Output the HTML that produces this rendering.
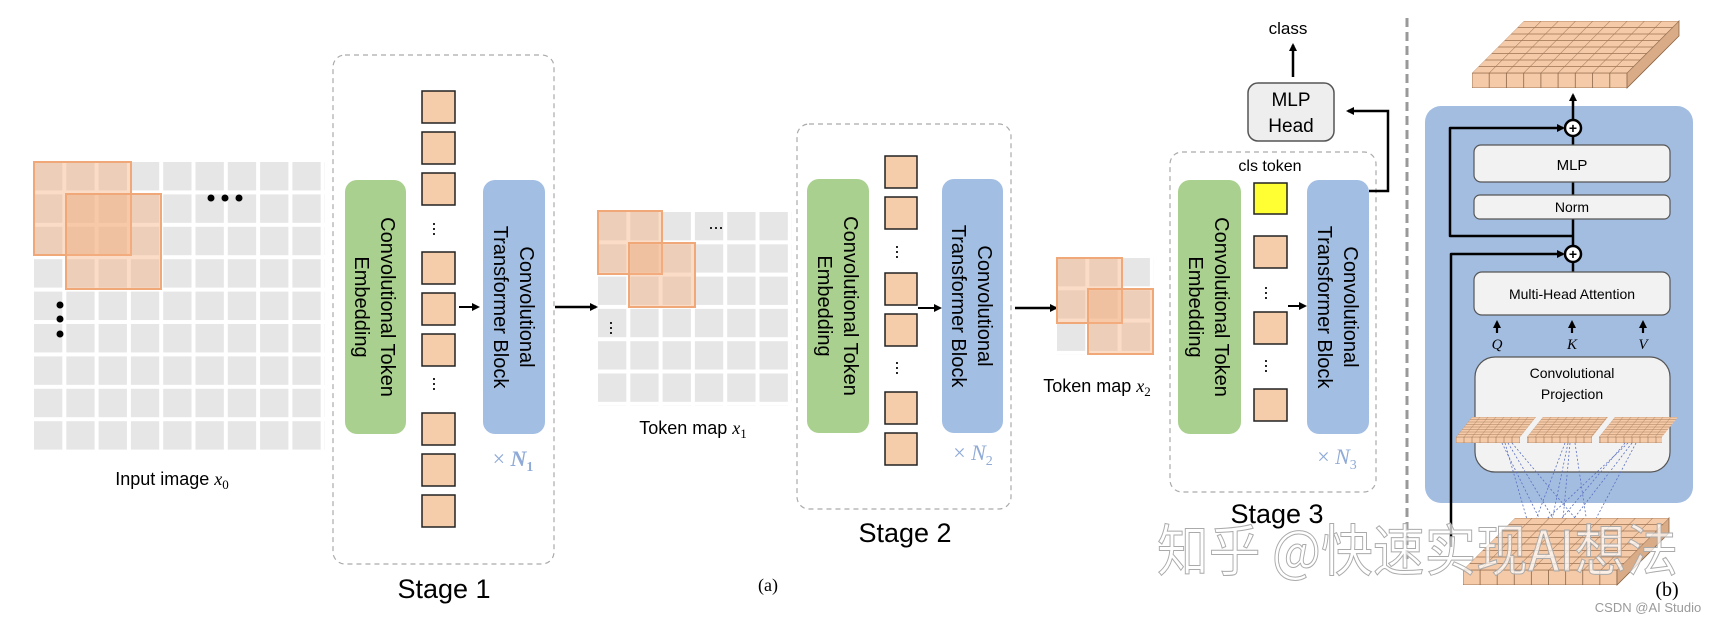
<!DOCTYPE html>
<html><head><meta charset="utf-8"><style>
html,body{margin:0;padding:0;background:#fff;}
svg{display:block;font-family:"Liberation Sans","Noto Sans CJK SC",sans-serif;}
</style></head><body>
<svg width="1720" height="618" viewBox="0 0 1720 618" xmlns="http://www.w3.org/2000/svg">
<defs>
<pattern id="g1" x="34" y="162" width="32.3" height="32.4" patternUnits="userSpaceOnUse"><rect x="0" y="0" width="28.3" height="28.4" fill="#e6e6e6"/></pattern>
<pattern id="g2" x="598" y="212" width="32.3" height="32.3" patternUnits="userSpaceOnUse"><rect x="0" y="0" width="28.3" height="28.3" fill="#e6e6e6"/></pattern>
<pattern id="g3" x="1057" y="258" width="32.3" height="32.3" patternUnits="userSpaceOnUse"><rect x="0" y="0" width="28.3" height="28.3" fill="#e6e6e6"/></pattern>
<pattern id="tf" width="17.22" height="6.5" patternUnits="userSpaceOnUse"><rect width="17.22" height="6.5" fill="#f5caa8" stroke="#9e7656" stroke-width="0.7"/></pattern>
<pattern id="ff1" x="1472" y="73" width="17.22" height="15" patternUnits="userSpaceOnUse"><rect width="17.22" height="15" fill="#f5caa8" stroke="#8a6648" stroke-width="0.8"/></pattern>
<pattern id="ff2" x="1463" y="570" width="17.1" height="15" patternUnits="userSpaceOnUse"><rect width="17.1" height="15" fill="#f5caa8" stroke="#8a6648" stroke-width="0.8"/></pattern>
<pattern id="sf" width="8" height="2.5" patternUnits="userSpaceOnUse"><rect width="8" height="2.5" fill="#f5caa8" stroke="#9e7656" stroke-width="0.4"/></pattern>
<pattern id="sff" x="0" y="437" width="8" height="6" patternUnits="userSpaceOnUse"><rect width="8" height="6" fill="#f5caa8" stroke="#8a6648" stroke-width="0.5"/></pattern>
<marker id="ah" markerWidth="8" markerHeight="8" refX="6" refY="4" orient="auto" markerUnits="userSpaceOnUse"><path d="M0,0 L8,4 L0,8 z" fill="#000"/></marker>
</defs>

<!-- Input image -->
<rect x="34" y="162" width="291" height="291" fill="url(#g1)"/>
<rect x="34" y="162" width="97" height="93" fill="rgba(244,177,131,0.45)" stroke="#f0a878" stroke-width="2"/>
<rect x="66" y="194" width="95" height="95" fill="rgba(244,177,131,0.45)" stroke="#f0a878" stroke-width="2"/>
<circle cx="211" cy="198" r="3.5"/><circle cx="225" cy="198" r="3.5"/><circle cx="239" cy="198" r="3.5"/>
<circle cx="60" cy="305" r="3.5"/><circle cx="60" cy="319" r="3.5"/><circle cx="60" cy="334" r="3.5"/>
<text x="172" y="485" font-size="18" text-anchor="middle">Input image <tspan font-family="Liberation Serif" font-style="italic">x</tspan><tspan font-family="Liberation Serif" font-size="13" dy="4">0</tspan></text>

<!-- Stage 1 -->
<rect x="333" y="55" width="221" height="509" rx="12" fill="none" stroke="#aaa" stroke-width="1.2" stroke-dasharray="5,4"/>
<rect x="345" y="180" width="61" height="254" rx="12" fill="#a9d08e"/>
<text transform="translate(375,307) rotate(90)" font-size="20" text-anchor="middle"><tspan x="0" y="-6">Convolutional Token</tspan><tspan x="0" y="20">Embedding</tspan></text>
<rect x="483" y="180" width="62" height="254" rx="12" fill="#a2bee3"/>
<text transform="translate(514,307) rotate(90)" font-size="20" text-anchor="middle"><tspan x="0" y="-6">Convolutional</tspan><tspan x="0" y="20">Transformer Block</tspan></text>
<g fill="#f6cdaa" stroke="#222" stroke-width="1.5">
<rect x="422" y="91" width="33" height="32"/><rect x="422" y="132" width="33" height="32"/><rect x="422" y="173" width="33" height="32"/>
<rect x="422" y="252" width="33" height="32"/><rect x="422" y="293" width="33" height="32"/><rect x="422" y="334" width="33" height="32"/>
<rect x="422" y="413" width="33" height="32"/><rect x="422" y="454" width="33" height="32"/><rect x="422" y="495" width="33" height="32"/>
</g>
<text x="438" y="234" font-size="18" text-anchor="middle" transform="rotate(90,438,229)">...</text>
<text x="438" y="389" font-size="18" text-anchor="middle" transform="rotate(90,438,384)">...</text>
<line x1="459" y1="307" x2="478" y2="307" stroke="#000" stroke-width="2" marker-end="url(#ah)"/>
<text x="513" y="466" font-size="22" fill="#8faad6" text-anchor="middle" font-family="Liberation Serif">× <tspan font-weight="bold" font-style="italic">N</tspan><tspan font-size="14" font-weight="bold" dy="5">1</tspan></text>
<text x="444" y="598" font-size="27" text-anchor="middle">Stage 1</text>
<line x1="555" y1="307" x2="596" y2="307" stroke="#000" stroke-width="2.5" marker-end="url(#ah)"/>

<!-- Token map x1 -->
<rect x="598" y="212" width="194" height="194" fill="url(#g2)"/>
<rect x="598" y="211" width="64" height="63" fill="rgba(244,177,131,0.45)" stroke="#f0a878" stroke-width="2"/>
<rect x="629" y="243" width="66" height="64" fill="rgba(244,177,131,0.45)" stroke="#f0a878" stroke-width="2"/>
<text x="716" y="229" font-size="18" text-anchor="middle">...</text>
<text x="615" y="333" font-size="18" text-anchor="middle" transform="rotate(90,615,328)">...</text>
<text x="693" y="434" font-size="18" text-anchor="middle">Token map <tspan font-family="Liberation Serif" font-style="italic">x</tspan><tspan font-family="Liberation Serif" font-size="13" dy="4">1</tspan></text>

<!-- Stage 2 -->
<rect x="797" y="124" width="214" height="385" rx="12" fill="none" stroke="#aaa" stroke-width="1.2" stroke-dasharray="5,4"/>
<rect x="807" y="179" width="62" height="254" rx="12" fill="#a9d08e"/>
<text transform="translate(838,306) rotate(90)" font-size="20" text-anchor="middle"><tspan x="0" y="-6">Convolutional Token</tspan><tspan x="0" y="20">Embedding</tspan></text>
<rect x="942" y="179" width="61" height="254" rx="12" fill="#a2bee3"/>
<text transform="translate(972,306) rotate(90)" font-size="20" text-anchor="middle"><tspan x="0" y="-6">Convolutional</tspan><tspan x="0" y="20">Transformer Block</tspan></text>
<g fill="#f6cdaa" stroke="#222" stroke-width="1.5">
<rect x="885" y="156" width="32" height="32"/><rect x="885" y="197" width="32" height="32"/>
<rect x="885" y="273" width="32" height="32"/><rect x="885" y="314" width="32" height="32"/>
<rect x="885" y="392" width="32" height="32"/><rect x="885" y="433" width="32" height="32"/>
</g>
<text x="901" y="257" font-size="18" text-anchor="middle" transform="rotate(90,901,252)">...</text>
<text x="901" y="373" font-size="18" text-anchor="middle" transform="rotate(90,901,368)">...</text>
<line x1="918" y1="308" x2="940" y2="308" stroke="#000" stroke-width="2" marker-end="url(#ah)"/>
<text x="973" y="460" font-size="22" fill="#8faad6" text-anchor="middle" font-family="Liberation Serif">× <tspan font-style="italic">N</tspan><tspan font-size="14" dy="5">2</tspan></text>
<text x="905" y="542" font-size="27" text-anchor="middle">Stage 2</text>
<line x1="1015" y1="308" x2="1056" y2="308" stroke="#000" stroke-width="2.5" marker-end="url(#ah)"/>

<!-- Token map x2 -->
<rect x="1057" y="258" width="97" height="97" fill="url(#g3)"/>
<rect x="1057" y="258" width="65" height="65" fill="rgba(244,177,131,0.45)" stroke="#f0a878" stroke-width="2"/>
<rect x="1088" y="289" width="65" height="65" fill="rgba(244,177,131,0.45)" stroke="#f0a878" stroke-width="2"/>
<text x="1097" y="392" font-size="18" text-anchor="middle">Token map <tspan font-family="Liberation Serif" font-style="italic">x</tspan><tspan font-family="Liberation Serif" font-size="13" dy="4">2</tspan></text>

<!-- Stage 3 -->
<rect x="1170" y="152" width="206" height="340" rx="12" fill="none" stroke="#aaa" stroke-width="1.2" stroke-dasharray="5,4"/>
<text x="1270" y="171" font-size="16" text-anchor="middle">cls token</text>
<rect x="1178" y="180" width="63" height="254" rx="12" fill="#a9d08e"/>
<text transform="translate(1209,307) rotate(90)" font-size="20" text-anchor="middle"><tspan x="0" y="-6">Convolutional Token</tspan><tspan x="0" y="20">Embedding</tspan></text>
<rect x="1307" y="180" width="62" height="254" rx="12" fill="#a2bee3"/>
<text transform="translate(1338,307) rotate(90)" font-size="20" text-anchor="middle"><tspan x="0" y="-6">Convolutional</tspan><tspan x="0" y="20">Transformer Block</tspan></text>
<rect x="1254" y="183" width="33" height="31" fill="#ffff33" stroke="#222" stroke-width="1.5"/>
<g fill="#f6cdaa" stroke="#222" stroke-width="1.5">
<rect x="1254" y="236" width="33" height="32"/><rect x="1254" y="312" width="33" height="32"/><rect x="1254" y="389" width="33" height="32"/>
</g>
<text x="1270" y="298" font-size="18" text-anchor="middle" transform="rotate(90,1270,293)">...</text>
<text x="1270" y="371" font-size="18" text-anchor="middle" transform="rotate(90,1270,366)">...</text>
<line x1="1288" y1="306" x2="1305" y2="306" stroke="#000" stroke-width="2" marker-end="url(#ah)"/>
<text x="1337" y="464" font-size="22" fill="#8faad6" text-anchor="middle" font-family="Liberation Serif">× <tspan font-style="italic">N</tspan><tspan font-size="14" dy="5">3</tspan></text>
<text x="1277" y="523" font-size="27" text-anchor="middle">Stage 3</text>

<!-- MLP head -->
<rect x="1248" y="83" width="86" height="58" rx="10" fill="#eeeeee" stroke="#555" stroke-width="1.5"/>
<text x="1291" y="106" font-size="19" text-anchor="middle">MLP</text>
<text x="1291" y="132" font-size="19" text-anchor="middle">Head</text>
<line x1="1293" y1="77" x2="1293" y2="45" stroke="#000" stroke-width="2.5" marker-end="url(#ah)"/>
<text x="1288" y="34" font-size="17" text-anchor="middle">class</text>
<polyline points="1369,191 1388,191 1388,111 1348,111" fill="none" stroke="#000" stroke-width="2.5" marker-end="url(#ah)"/>

<!-- separator -->
<line x1="1407" y1="18" x2="1407" y2="560" stroke="#999" stroke-width="3" stroke-dasharray="9,5"/>

<text x="768" y="591" font-size="18" text-anchor="middle" font-family="Liberation Serif">(a)</text>

<!-- (b) panel -->
<g>
<polygon points="1627,73 1679,21 1679,36 1627,88" fill="#d9ab86" stroke="#8a6648" stroke-width="0.8"/>
<rect x="0" y="0" width="155" height="52" fill="url(#tf)" transform="matrix(1,0,1,-1,1472,73)"/>
<rect x="1472" y="73" width="155" height="15" fill="url(#ff1)"/>
</g>
<rect x="1425" y="106" width="268" height="397" rx="16" fill="#a3bde1"/>
<line x1="1573" y1="120" x2="1573" y2="95" stroke="#000" stroke-width="2.5" marker-end="url(#ah)"/>
<polyline points="1573,236 1450,236 1450,128 1563,128" fill="none" stroke="#000" stroke-width="2.5" stroke-linejoin="round" marker-end="url(#ah)"/>
<polyline points="1451,547 1451,254 1563,254" fill="none" stroke="#000" stroke-width="2.5" stroke-linejoin="round" marker-end="url(#ah)"/>
<line x1="1573" y1="136" x2="1573" y2="246" stroke="#000" stroke-width="2.5"/>
<line x1="1573" y1="262" x2="1573" y2="272" stroke="#000" stroke-width="2.5"/>
<circle cx="1573" cy="128" r="8" fill="#fff" stroke="#000" stroke-width="2.5"/>
<text x="1573" y="133" font-size="14" font-weight="bold" text-anchor="middle">+</text>
<circle cx="1573" cy="254" r="8" fill="#fff" stroke="#000" stroke-width="2.5"/>
<text x="1573" y="259" font-size="14" font-weight="bold" text-anchor="middle">+</text>
<rect x="1474" y="145" width="196" height="37" rx="7" fill="#f2f2f2" stroke="#555" stroke-width="1.2"/>
<text x="1572" y="170" font-size="15" text-anchor="middle">MLP</text>
<rect x="1474" y="195" width="196" height="24" rx="6" fill="#f2f2f2" stroke="#555" stroke-width="1.2"/>
<text x="1572" y="212" font-size="14" text-anchor="middle">Norm</text>
<rect x="1474" y="272" width="196" height="43" rx="8" fill="#f2f2f2" stroke="#555" stroke-width="1.2"/>
<text x="1572" y="299" font-size="14" text-anchor="middle">Multi-Head Attention</text>
<g stroke="#000" stroke-width="2.2">
<line x1="1497" y1="333" x2="1497" y2="322" marker-end="url(#ah)"/>
<line x1="1572" y1="333" x2="1572" y2="322" marker-end="url(#ah)"/>
<line x1="1643" y1="333" x2="1643" y2="322" marker-end="url(#ah)"/>
</g>
<g font-family="Liberation Serif" font-style="italic" font-size="15" text-anchor="middle">
<text x="1497" y="349">Q</text><text x="1572" y="349">K</text><text x="1643" y="349">V</text>
</g>
<rect x="1475" y="357" width="195" height="115" rx="20" fill="#f2f2f2" stroke="#555" stroke-width="1.2"/>
<text x="1572" y="378" font-size="14" text-anchor="middle">Convolutional</text>
<text x="1572" y="399" font-size="14" text-anchor="middle">Projection</text>
<g>
<rect x="0" y="0" width="64" height="20" fill="url(#sf)" transform="matrix(1,0,0.8,-1,1456,437)"/>
<rect x="1456" y="437" width="64" height="6" fill="url(#sff)"/>
<rect x="0" y="0" width="65" height="20" fill="url(#sf)" transform="matrix(1,0,0.8,-1,1527,437)"/>
<rect x="1527" y="437" width="65" height="6" fill="url(#sff)"/>
<rect x="0" y="0" width="63" height="20" fill="url(#sf)" transform="matrix(1,0,0.8,-1,1599,437)"/>
<rect x="1599" y="437" width="63" height="6" fill="url(#sff)"/>
</g>
<g stroke="#5a6fc0" stroke-width="0.8" stroke-dasharray="2,2" fill="none">
<line x1="1505" y1="443" x2="1530" y2="530"/><line x1="1508" y1="443" x2="1560" y2="530"/>
<line x1="1512" y1="443" x2="1585" y2="530"/><line x1="1502" y1="443" x2="1545" y2="530"/>
<line x1="1565" y1="443" x2="1532" y2="530"/><line x1="1570" y1="443" x2="1562" y2="530"/>
<line x1="1575" y1="443" x2="1588" y2="530"/><line x1="1568" y1="443" x2="1550" y2="530"/>
<line x1="1628" y1="443" x2="1535" y2="530"/><line x1="1632" y1="443" x2="1565" y2="530"/>
<line x1="1636" y1="443" x2="1590" y2="530"/><line x1="1625" y1="443" x2="1552" y2="530"/>
</g>
<g>
<polygon points="1617,570 1669,518 1669,533 1617,585" fill="#d9ab86" stroke="#8a6648" stroke-width="0.8"/>
<rect x="0" y="0" width="154" height="52" fill="url(#tf)" transform="matrix(1,0,1,-1,1463,570)"/>
<rect x="1463" y="570" width="154" height="15" fill="url(#ff2)"/>
</g>
<text x="1157" y="571" font-size="56" textLength="521" lengthAdjust="spacingAndGlyphs" fill="rgba(255,255,255,0.7)" stroke="#aaaaaa" stroke-width="1" font-family="'Noto Sans CJK SC',sans-serif">知乎 @快速实现AI想法</text>
<text x="1667" y="596" font-size="20" text-anchor="middle" font-family="Liberation Serif">(b)</text>
<text x="1648" y="612" font-size="13" text-anchor="middle" fill="#9a9a9a">CSDN @AI Studio</text>
</svg>
</body></html>
